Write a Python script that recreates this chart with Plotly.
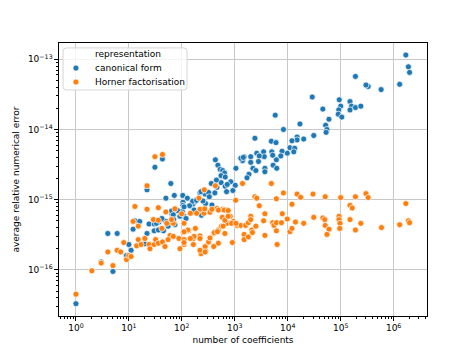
import plotly.graph_objects as go

# canonical form
canon_x = [1, 3, 5, 4, 6, 9, 10, 11, 12, 13, 16, 16, 20, 22, 24, 30, 30, 22, 31, 43,
           62, 50, 72, 104, 127, 105, 105, 37, 43, 38, 45, 55, 65, 64, 102, 110, 155, 165, 185, 220,
           275, 360, 460, 550, 660, 840, 1020, 430, 480, 530, 590, 640, 550, 450, 660, 720, 920, 1050, 1400, 1300,
           1500, 700, 320, 230, 180, 160, 140, 330, 420, 370, 280, 250, 190, 170, 220, 235, 110, 120, 92, 83,
           69, 50, 42, 33, 36, 70, 74, 5800, 29000, 46000, 17000, 8300, 60000, 52000, 55000, 53000, 94000, 31000, 20000, 15000,
           15000, 12000, 11000, 13500, 13000, 9800, 7800, 7400, 6100, 5300, 6200, 4900, 6000, 2400, 2600, 3500, 3600, 2900, 2800, 2000,
           2000, 1450, 5000, 5200, 2200, 2500, 3700, 3700, 1850, 1700, 1.7e6, 1.9e6, 2.0e6, 1.3e6, 5.8e5, 3.3e5, 3.0e5, 1.9e5, 1.5e5, 1.0e5,
           9.2e4, 1.6e5, 1.5e5, 1.9e5, 2.4e5, 9.0e4, 1.05e5]
canon_y = [3.3e-17, 1.3e-16, 9.5e-17, 3.3e-16, 3.3e-16, 1.6e-16, 2.3e-16, 1.9e-16, 3.8e-16, 5.0e-16, 4.9e-16, 2.3e-16, 2.35e-16, 3.3e-16, 4.5e-16, 4.5e-16, 3.6e-16, 1.38e-15, 2.9e-15, 3.8e-15,
           1.7e-15, 1.05e-15, 1.15e-15, 1.15e-15, 1.05e-15, 9.2e-16, 8.3e-16, 4.8e-16, 5.2e-16, 3.8e-16, 3.6e-16, 4.2e-16, 6.2e-16, 6.9e-16, 6.8e-16, 5.8e-16, 8.0e-16, 8.8e-16, 9.7e-16, 1.25e-15,
           1.2e-15, 1.7e-15, 1.5e-15, 1.75e-15, 1.55e-15, 1.8e-15, 1.6e-15, 3.7e-15, 3.1e-15, 2.7e-15, 2.6e-15, 2.4e-15, 2.2e-15, 1.9e-15, 2.1e-15, 1.65e-15, 1.35e-15, 2.8e-15, 3.6e-15, 3.9e-15,
           4.1e-15, 1.3e-15, 1.27e-15, 1.3e-15, 9.5e-16, 9.5e-16, 8.2e-16, 1.1e-15, 1.25e-15, 8.4e-16, 8.8e-16, 9.6e-16, 9.8e-16, 7.1e-16, 6.3e-16, 6.0e-16, 7.9e-16, 5.4e-16, 5.8e-16, 7.0e-16,
           6.1e-16, 4.9e-16, 5.4e-16, 4.6e-16, 3.7e-16, 5.2e-16, 4.4e-16, 1.6e-14, 2.9e-14, 1.95e-14, 1.2e-14, 1.0e-14, 1.4e-14, 1.15e-14, 1.0e-14, 9.1e-15, 2.65e-14, 8.2e-15, 7.3e-15, 7.8e-15,
           7.1e-15, 6.9e-15, 5.5e-15, 5.4e-15, 4.8e-15, 4.6e-15, 4.9e-15, 4.2e-15, 3.7e-15, 3.1e-15, 2.8e-15, 6.8e-15, 6.5e-15, 7.5e-15, 4.6e-15, 4.8e-15, 4.1e-15, 4.2e-15, 3.5e-15, 4.1e-15,
           3.4e-15, 4.0e-15, 4.8e-15, 4.3e-15, 2.8e-15, 2.6e-15, 2.8e-15, 2.5e-15, 2.3e-15, 2.05e-15, 1.15e-13, 7.8e-14, 6.5e-14, 4.4e-14, 3.7e-14, 4.1e-14, 4.3e-14, 5.7e-14, 2.5e-14, 2.15e-14,
           1.9e-14, 2.15e-14, 1.9e-14, 2.05e-14, 2.15e-14, 1.65e-14, 1.5e-14]

# Horner factorisation
horner_x = [1, 2, 3, 5, 4, 6, 7, 8, 9, 10, 14, 15, 13, 12, 15, 20, 24, 25, 30, 32,
            36, 43, 48, 60, 69, 88, 92, 110, 110, 107, 110, 99, 74, 50, 36, 22, 22, 31, 43, 29,
            36, 42, 52, 69, 135, 165, 165, 220, 230, 280, 275, 320, 340, 400, 490, 560, 720, 940, 340, 260,
            220, 190, 145, 210, 265, 430, 460, 590, 700, 820, 1040,
            1400, 4900, 2400, 2600, 2900, 6100, 8300, 12000, 15000, 17500, 30000, 51000, 100000, 190000, 300000, 330000, 150000, 165000, 1.7e6,
            1100, 1300, 1600, 1800, 2000, 2000, 1500, 1500, 1800, 2100, 2150, 2500, 3700, 3500, 3700, 5200, 5500, 6100, 6100, 6300,
            7600, 7900, 9800, 11000, 12000, 14000, 20000, 31000, 46000, 50000, 51000, 60000, 55000, 93000, 93000, 97000, 96000, 150000, 190000, 240000,
            590000, 1.3e6, 1.9e6, 2.0e6,
            64, 130, 180, 170, 220, 410, 490, 470, 400, 600, 650, 870, 900, 490, 630, 750, 580, 650, 750, 1050,
            270, 370, 145, 110, 110, 55, 220, 275, 11, 17]
horner_y = [4.5e-17, 9.7e-17, 1.25e-16, 1.15e-16, 1.8e-16, 1.9e-16, 1.8e-16, 2.45e-16, 1.4e-16, 1.6e-16, 2.2e-16, 2.7e-16, 8.0e-16, 4.9e-16, 4.2e-16, 2.8e-16, 2.3e-16, 2.0e-16, 2.3e-16, 2.7e-16,
            2.4e-16, 2.5e-16, 2.15e-16, 3.1e-16, 3.0e-16, 2.8e-16, 2.0e-16, 2.3e-16, 2.7e-16, 3.4e-16, 4.6e-16, 6.3e-16, 7.4e-16, 6.7e-16, 7.7e-16, 7.3e-16, 1.58e-15, 4.1e-15, 4.4e-15, 5.2e-16,
            5.1e-16, 3.9e-16, 4.6e-16, 4.6e-16, 3.6e-16, 2.8e-16, 2.3e-16, 3.05e-16, 1.7e-16, 1.9e-16, 2.15e-16, 2.5e-16, 2.85e-16, 3.3e-16, 3.7e-16, 4.2e-16, 4.6e-16, 4.9e-16, 6.6e-16, 6.4e-16,
            7.3e-16, 6.4e-16, 6.4e-16, 1.05e-15, 1.38e-15, 1.58e-15, 7.5e-16, 7.3e-16, 7.1e-16, 5.8e-16, 9.8e-16,
            1.7e-15, 1.7e-15, 1.1e-15, 1.05e-15, 8.2e-16, 1.03e-15, 1.25e-15, 8.6e-16, 1.2e-15, 1.08e-15, 1.2e-15, 1.1e-15, 1.07e-15, 1.1e-15, 1.22e-15, 1.07e-15, 8.3e-16, 7.6e-16, 8.8e-16,
            4.3e-16, 4.3e-16, 4.3e-16, 4.7e-16, 5.8e-16, 5.2e-16, 3.2e-16, 2.7e-16, 2.95e-16, 3.7e-16, 3.4e-16, 4.2e-16, 6.3e-16, 5.0e-16, 3.1e-16, 4.7e-16, 4.3e-16, 4.7e-16, 3.6e-16, 2.3e-16,
            4.7e-16, 6.3e-16, 5.3e-16, 3.5e-16, 3.9e-16, 4.8e-16, 4.6e-16, 5.6e-16, 5.5e-16, 5.2e-16, 4.3e-16, 3.8e-16, 3.2e-16, 5.8e-16, 5.2e-16, 4.6e-16, 3.9e-16, 5.2e-16, 3.7e-16, 4.6e-16,
            4.0e-16, 4.4e-16, 5.0e-16, 4.7e-16,
            5.2e-16, 3.7e-16, 3.9e-16, 3.0e-16, 2.8e-16, 3.4e-16, 2.4e-16, 3.5e-16, 2.15e-16, 4.2e-16, 3.3e-16, 4.6e-16, 2.45e-16, 7.1e-16, 7.1e-16, 7.0e-16, 5.6e-16, 5.1e-16, 5.8e-16, 4.6e-16,
            7.4e-16, 7.3e-16, 2.8e-16, 3.5e-16, 2.45e-16, 2.7e-16, 1.9e-16, 1.8e-16, 1.55e-16, 2.3e-16]

series_names = ["canonical form", "Horner factorisation"]
legend_title = "representation"

x_tick_vals = [1, 10, 100, 1000, 1e4, 1e5, 1e6]
x_tick_text = ["10<sup>0</sup>", "10<sup>1</sup>", "10<sup>2</sup>", "10<sup>3</sup>",
               "10<sup>4</sup>", "10<sup>5</sup>", "10<sup>6</sup>"]
y_tick_vals = [1e-16, 1e-15, 1e-14, 1e-13]
y_tick_text = ["10<sup>\u221216</sup>", "10<sup>\u221215</sup>", "10<sup>\u221214</sup>", "10<sup>\u221213</sup>"]

x_minor = [m * 10.0 ** e for e in range(-1, 7) for m in range(2, 10)]
y_minor = [m * 10.0 ** e for e in range(-18, -12) for m in range(2, 10)]

BLUE = "#1f77b4"
ORANGE = "#ff7f0e"
COLORS = [BLUE, ORANGE]
FS = 9

fig = go.Figure()
fig.add_trace(go.Scatter(x=canon_x, y=canon_y, mode="markers", name=series_names[0],
                         marker=dict(color=BLUE, size=6, line=dict(color="white", width=0.7))))
fig.add_trace(go.Scatter(x=horner_x, y=horner_y, mode="markers", name=series_names[1],
                         marker=dict(color=ORANGE, size=6, line=dict(color="white", width=0.7))))

axis_common = dict(
    type="log", showgrid=True, gridcolor="#c8c8c8", gridwidth=1,
    showline=True, linecolor="black", linewidth=1.1, mirror=True,
    ticks="outside", ticklen=3.5, tickwidth=0.9, tickcolor="black",
    tickfont=dict(size=FS, color="black"), zeroline=False, automargin=False,
)

fig.update_xaxes(**axis_common, range=[-0.32, 6.63], tickmode="array",
                 tickvals=x_tick_vals, ticktext=x_tick_text,
                 minor=dict(tickmode="array", tickvals=x_minor, ticks="outside", ticklen=2,
                            tickwidth=0.7, tickcolor="black", showgrid=False),
                 title=dict(text="number of coefficients", font=dict(size=FS), standoff=4))
fig.update_yaxes(**axis_common, range=[-16.657, -12.768], tickmode="array",
                 tickvals=y_tick_vals, ticktext=y_tick_text,
                 minor=dict(tickmode="array", tickvals=y_minor, ticks="outside", ticklen=2,
                            tickwidth=0.7, tickcolor="black", showgrid=False),
                 title=dict(text="average relative numerical error", font=dict(size=FS), standoff=6))

# ---- legend box drawn in the plot area (paper coordinates) ----
lx0, lx1, ly0, ly1 = 0.011, 0.348, 0.828, 0.982
rx, ry = 0.009, 0.012
legend_path = (f"M {lx0+rx},{ly1} L {lx1-rx},{ly1} Q {lx1},{ly1} {lx1},{ly1-ry} "
               f"L {lx1},{ly0+ry} Q {lx1},{ly0} {lx1-rx},{ly0} "
               f"L {lx0+rx},{ly0} Q {lx0},{ly0} {lx0},{ly0+ry} "
               f"L {lx0},{ly1-ry} Q {lx0},{ly1} {lx0+rx},{ly1} Z")
fig.add_shape(type="path", path=legend_path, xref="paper", yref="paper",
              line=dict(color="#d6d6d6", width=1), fillcolor="rgba(255,255,255,0.8)", layer="above")

text_x = 0.0924
marker_x = 0.046
row_y = [0.908, 0.857]
fig.add_annotation(x=text_x, y=0.960, xref="paper", yref="paper", text=legend_title,
                   showarrow=False, xanchor="left", yanchor="middle", font=dict(size=FS, color="black"))
for name, col, yy in zip(series_names, COLORS, row_y):
    fig.add_shape(type="circle", xref="paper", yref="paper", xsizemode="pixel", ysizemode="pixel",
                  xanchor=marker_x, yanchor=yy, x0=-3, x1=3, y0=-3, y1=3,
                  fillcolor=col, line=dict(color="white", width=0.7), layer="above")
    fig.add_annotation(x=text_x, y=yy, xref="paper", yref="paper", text=name,
                       showarrow=False, xanchor="left", yanchor="middle", font=dict(size=FS, color="black"))

# the page body adds an 8px offset; size the figure so the plot area lands where the reference has it
fig.update_layout(
    width=466, height=347,
    margin=dict(l=51, r=47, t=35, b=39),
    paper_bgcolor="white", plot_bgcolor="white",
    font=dict(family="DejaVu Sans", size=FS, color="black"),
    showlegend=False,
)

fig.write_html("out.html")
